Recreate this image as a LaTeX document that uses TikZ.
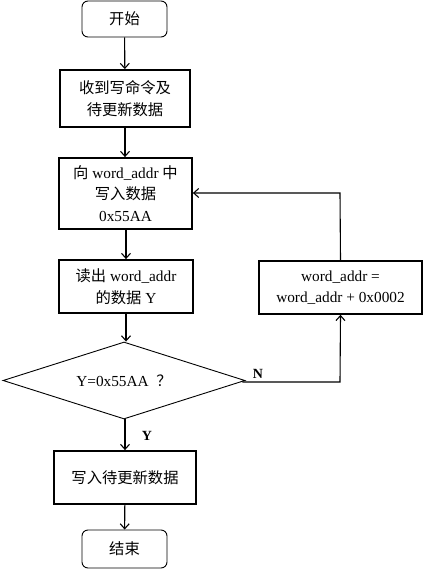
\documentclass[tikz,border=0pt]{standalone}
\usepackage{fontspec}
\setmainfont{Liberation Serif}
\newfontfamily\cjk{Noto Sans CJK SC}
\usetikzlibrary{shapes.geometric,arrows.meta}
\begin{document}
\begin{tikzpicture}[x=1pt,y=-1pt,
  font=\fontsize{15.3}{21.5}\selectfont,
  term/.style={draw,rounded corners=6pt,line width=0.9pt,minimum width=85pt,minimum height=36pt,inner sep=0pt},
  proc/.style={draw,line width=1.8pt,align=center,inner sep=0pt},
  decide/.style={draw,diamond,line width=0.9pt,aspect=3.14,minimum width=242pt,minimum height=77pt,inner sep=0pt},
  conn/.style={line width=1.1pt,-{Straight Barb[length=5pt,width=9pt,line width=1.1pt]}},
  lbl/.style={font=\fontsize{14}{16}\selectfont\bfseries}]
\useasboundingbox (0,0) rectangle (423,569);
\node[term] (start) at (124.5,19) {\cjk 开始};
\node[proc,minimum width=130pt,minimum height=57pt] (recv) at (125,98.5) {\cjk 收到写命令及\\\cjk 待更新数据};
\node[proc,minimum width=133pt,minimum height=71pt] (write) at (125.5,193.5) {{\cjk 向} word\_addr {\cjk 中}\\\cjk 写入数据\\0x55AA};
\node[proc,minimum width=134pt,minimum height=53pt] (read) at (126,286.5) {{\cjk 读出} word\_addr\\{\cjk 的数据} Y};
\node[decide] (dec) at (124,380.5) {Y=0x55AA\ \ {\cjk ？}};
\node[proc,minimum width=142pt,minimum height=53pt] (upd) at (125,477.5) {\cjk 写入待更新数据};
\node[term,minimum height=38pt] (end) at (124.5,549) {\cjk 结束};
\node[proc,minimum width=163pt,minimum height=53pt,line width=1.6pt] (inc) at (340.5,287.5) {word\_addr =\\word\_addr + 0x0002};
\coordinate (c1) at (340,382);
\coordinate (c2) at (340,193);
\draw[conn] (dec.east) ++(-3,1.5) -- (c1) -- (inc.south);
\draw[conn] (start) -- (recv);
\draw[conn] (recv) -- (recv|-write.north);
\draw[conn] (write.south-|read) -- (read);
\draw[conn] (read) -- (read|-dec.north);
\draw[conn] (dec.south-|upd) -- (upd);
\draw[conn] (upd) -- (end);
\draw[conn] (inc.north) -- (c2) -- (write.east|-c2);
\node[lbl] (nlab) at (258,374) {N};
\node[lbl] (ylab) at (147,436) {Y};
\end{tikzpicture}
\end{document}
